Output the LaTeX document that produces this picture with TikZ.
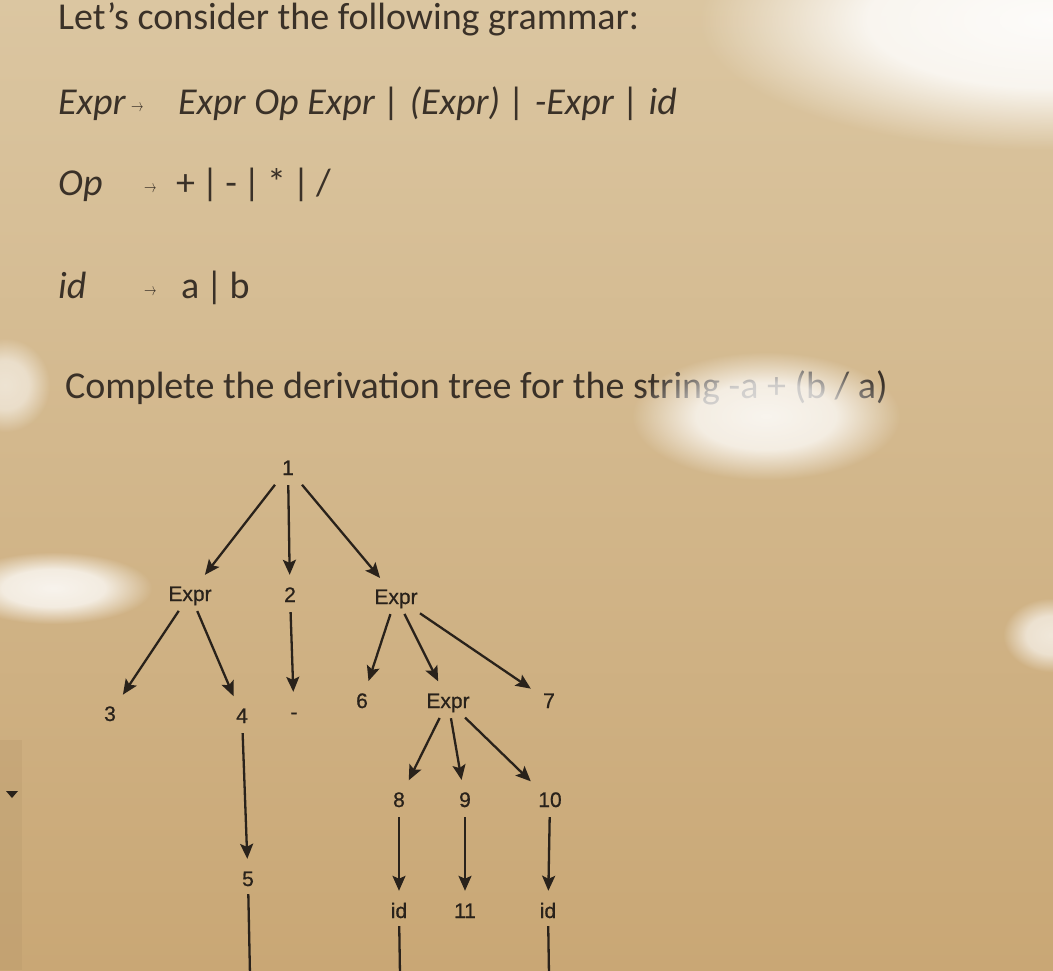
\documentclass[tikz,border=0pt]{standalone}
\usepackage{fontspec}
\setmainfont{Carlito}
\newfontfamily\treefont[FakeBold=0.8]{Liberation Sans}
\usetikzlibrary{arrows.meta,fadings}
\newcommand\gto{\raisebox{0.06em}{\scalebox{0.5}[0.7]{$\rightarrow$}}}
\pgfdeclareradialshading{glowshade}{\pgfpointorigin}{color(0bp)=(white); color(13bp)=(white!88!black); color(25bp)=(black); color(50bp)=(black)}
\pgfdeclarefading{softglow}{\pgfuseshading{glowshade}}
\begin{document}
\begin{tikzpicture}[x=1pt, y=-1pt,
  txt/.style={anchor=base west, inner sep=0pt, text=ink, font=\fontsize{38}{44}\selectfont},
  gram/.style={txt, font=\fontsize{38}{44}\selectfont\itshape},
  lbl/.style={inner sep=8pt, text height=14pt, text depth=0pt, text=ink2, font=\treefont\fontsize{21}{23}\selectfont},
  arr/.style={draw=ink2, line width=2.3pt, shorten >=5pt, shorten <=2pt, -{Stealth[length=15pt, width=13pt, inset=3pt]}},
  stem/.style={draw=ink2, line width=2.3pt},
  glare/.style={fill=white, path fading=softglow}]
\definecolor{bgtop}{HTML}{DBC6A1}
\definecolor{bgbot}{HTML}{C9A775}
\definecolor{ink}{HTML}{3A3128}
\definecolor{ink2}{HTML}{29221B}
\useasboundingbox (0,0) rectangle (1053,970);
\shade[top color=bgtop, bottom color=bgbot] (0,0) rectangle (1053,970);
\fill[bgbot!85!black, opacity=.2] (0,740) rectangle (22,970);

% grammar
\node[txt] (title) at (58,29) {Let's consider the following grammar:};
\node[gram] (lhsA) at (58,114) {Expr};
\node[gram] (toA) at (131,114) {\gto};
\node[gram] (rhsA) at (178,114) {Expr Op Expr | (Expr) | -Expr | id};
\node[gram] (lhsB) at (58,195) {Op};
\node[gram] (toB) at (144,195) {\gto};
\node[txt] (rhsB) at (176,195) {+\,|\,-\,|\,*\,|\,/};
\node[gram] (lhsC) at (58,298) {id};
\node[gram] (toC) at (144,298) {\gto};
\node[txt] (rhsC) at (181,298) {a\,|\,b};
\node[txt] (task) at (65,398) {Complete the derivation tree for the string -a + (b / a)};

% tree
\node[lbl] (n1) at (288,468) {1};
\node[lbl] (exprA) at (190,594) {Expr};
\node[lbl] (n2) at (290,595) {2};
\node[lbl] (exprB) at (396,597) {Expr};
\node[lbl] (n3) at (110,714) {3};
\node[lbl] (n4) at (242,716) {4};
\node[lbl] (minus) at (294,712) {-};
\node[lbl] (n6) at (362,701) {6};
\node[lbl] (exprC) at (448,701) {Expr};
\node[lbl] (n7) at (549,701) {7};
\node[lbl] (n8) at (399,800) {8};
\node[lbl] (n9) at (465,800) {9};
\node[lbl] (n10) at (550,800) {10};
\node[lbl] (n5) at (248,879) {5};
\node[lbl] (idA) at (399,911) {id};
\node[lbl] (n11) at (465,911) {11};
\node[lbl] (idB) at (548,911) {id};
\coordinate (endA) at (250,975);
\coordinate (endB) at (400,975);
\coordinate (endC) at (549,975);

\draw[arr] (n1) -- (exprA);
\draw[arr] (n1) -- (n2);
\draw[arr] (n1) -- (exprB);
\draw[arr] (exprA) -- (n3);
\draw[arr] (exprA) -- (n4);
\draw[arr] (n2) -- (minus);
\draw[arr] (exprB) -- (n6);
\draw[arr] (exprB) -- (exprC);
\draw[arr] (exprB) -- (n7);
\draw[arr] (exprC) -- (n8);
\draw[arr] (exprC) -- (n9);
\draw[arr] (exprC) -- (n10);
\draw[arr] (n4) -- (n5);
\draw[arr] (n8) -- (idA);
\draw[arr] (n9) -- (n11);
\draw[arr] (n10) -- (idB);
\draw[stem] (n5) -- (endA);
\draw[stem] (idA) -- (endB);
\draw[stem] (idB) -- (endC);

% glare on the screen
\fill[glare, opacity=.95] (700,-110) rectangle (1400,150);
\fill[glare, opacity=.85] (632,352) rectangle (900,480);
\fill[glare, opacity=.85] (-45,552) rectangle (152,624);
\fill[glare, opacity=.6] (-40,338) rectangle (50,432);
\fill[glare, opacity=.7] (1003,598) rectangle (1100,672);
\fill[ink2] (6,791) -- (18,791) -- (12,798) -- cycle;
\end{tikzpicture}
\end{document}
